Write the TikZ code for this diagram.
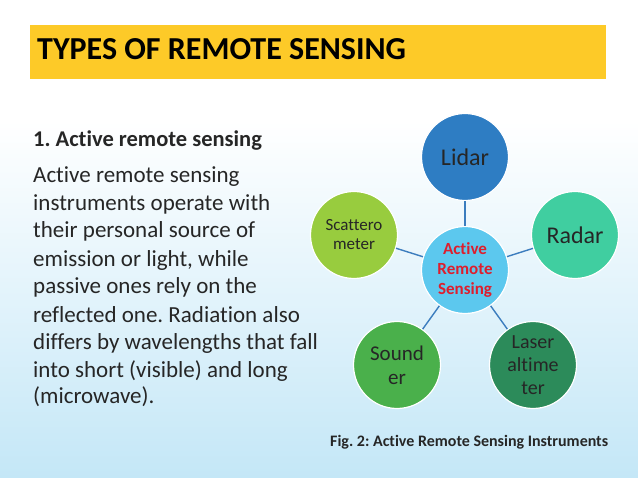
\documentclass[tikz,border=0pt]{standalone}
\usepackage{fontspec}
\setmainfont{Carlito}[Ligatures={NoCommon}]
\definecolor{banner}{RGB}{253,202,40}
\definecolor{bgblue}{RGB}{196,231,247}
\definecolor{cLidar}{RGB}{46,125,195}
\definecolor{cRadar}{RGB}{64,206,160}
\definecolor{cScat}{RGB}{152,204,62}
\definecolor{cSound}{RGB}{74,176,75}
\definecolor{cLaser}{RGB}{44,139,90}
\definecolor{cCenter}{RGB}{92,200,238}
\definecolor{cRed}{RGB}{222,30,45}
\definecolor{cLine}{RGB}{60,125,190}
\tikzset{
  bubble/.style={circle, draw=white, line width=1.2pt, minimum size=87pt, inner sep=0pt, align=center, text=black!85},
  link/.style={draw=cLine, line width=1.4pt},
  body/.style={anchor=base west, inner sep=0pt, font=\fontsize{23}{27}\selectfont, text=black!85},
}
\begin{document}
\frenchspacing
\begin{tikzpicture}[x=1pt,y=-1pt]
\useasboundingbox (0,0) rectangle (638,478);
\fill[white] (0,0) rectangle (638,120);
\shade[top color=white, bottom color=white!50!bgblue] (0,120) rectangle (638,300);
\shade[top color=white!50!bgblue, bottom color=bgblue] (0,300) rectangle (638,478);
\fill[banner] (30,25) rectangle (606,79);
\node[anchor=base west, inner sep=0pt, font=\fontsize{32}{36}\selectfont\bfseries] (title) at (37,60) {TYPES OF REMOTE SENSING};
\node[anchor=base west, inner sep=0pt, font=\fontsize{22.5}{25}\selectfont\bfseries, text=black!85] (sub) at (33,147) {1. Active remote sensing};
\node[body] (t1) at (33,183) {Active remote sensing};
\node[body] (t2) at (33,211) {instruments operate with};
\node[body] (t3) at (33,238) {their personal source of};
\node[body] (t4) at (33,267) {emission or light, while};
\node[body] (t5) at (33,294) {passive ones rely on the};
\node[body] (t6) at (33,323) {reflected one. Radiation also};
\node[body] (t7) at (33,350) {differs by wavelengths that fall};
\node[body] (t8) at (33,378) {into short (visible) and long};
\node[body] (t9) at (33,404) {(microwave).};
\node[bubble, fill=cCenter, text=cRed, font=\fontsize{17}{20}\selectfont\bfseries] (c) at (465,270) {Active\\Remote\\Sensing};
\node[bubble, fill=cLidar, font=\fontsize{24}{28}\selectfont] (lidar) at (465,157) {Lidar};
\node[bubble, fill=cRadar, font=\fontsize{24}{28}\selectfont] (radar) at (575,235) {Radar};
\node[bubble, fill=cScat, font=\fontsize{17}{19}\selectfont] (scat) at (354,235) {Scattero\\meter};
\node[bubble, fill=cSound, font=\fontsize{21}{24}\selectfont] (sound) at (397,365) {Sound\\er};
\node[bubble, fill=cLaser, font=\fontsize{20}{23}\selectfont] (laser) at (533,365) {Laser\\altime\\ter};
\draw[link] (c) -- (lidar);
\draw[link] (c) -- (radar);
\draw[link] (c) -- (scat);
\draw[link] (c) -- (sound);
\draw[link] (c) -- (laser);
\node[anchor=base west, inner sep=0pt, font=\fontsize{16}{19}\selectfont\bfseries, text=black!85] (cap) at (330,447) {Fig. 2: Active Remote Sensing Instruments};
\end{tikzpicture}
\end{document}
